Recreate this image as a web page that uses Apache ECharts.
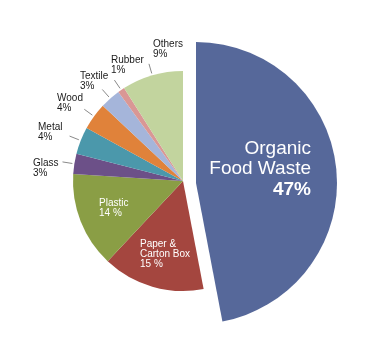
<!DOCTYPE html>
<html><head><meta charset="utf-8">
<script src="https://cdn.jsdelivr.net/npm/echarts@6/dist/echarts.min.js"></script>
<style>html,body{margin:0;padding:0;background:#fff}#c{width:378px;height:357px}</style>
</head><body><div id="c"></div>
<script>
const categories = ['Organic Food Waste','Paper & Carton Box','Plastic','Glass','Metal','Wood','Textile','Rubber','Others'];
const values = [47, 15, 14, 3, 4, 4, 3, 1, 9];
const labelTexts = ['47%','Paper &\nCarton Box\n15 %','Plastic\n14 %','Glass\n3%','Metal\n4%','Wood\n4%','Textile\n3%','Rubber\n1%','Others\n9%'];
const colors = ['#56689a','#a4463f','#8a9e45','#6c5088','#4b98ab','#e0823a','#a5b5da','#d99795','#c2d49e'];

// label placements (top-left for small slices)
const labelPos = {
  1: {x: 140, y: 239, align: 'left'},
  2: {x: 99, y: 198, align: 'left'},
  3: {x: 33, y: 158, align: 'left'},
  4: {x: 38, y: 122, align: 'left'},
  5: {x: 57, y: 93, align: 'left'},
  6: {x: 80, y: 71, align: 'left'},
  7: {x: 111, y: 55, align: 'left'},
  8: {x: 153, y: 39, align: 'left'}
};

const smallData = categories.map((name, i) => {
  if (i === 0) return {name, value: values[i], itemStyle: {color: 'rgba(0,0,0,0)'}, label: {show: false}, labelLine: {show: false}, emphasis: {disabled: true}};
  const inside = i <= 2;
  return {
    name, value: values[i],
    itemStyle: {color: colors[i]},
    label: {
      show: true, formatter: labelTexts[i],
      position: inside ? 'inside' : 'outside',
      color: inside ? '#ffffff' : '#1a1a1a',
      fontFamily: 'Liberation Sans, Arial, sans-serif',
      fontSize: 10, lineHeight: 10, align: 'left'
    },
    labelLine: {show: !inside, length: 10, length2: 0, lineStyle: {color: '#8a8a8a', width: 1}}
  };
});

const rest = values.slice(1).reduce((a, b) => a + b, 0);
const bigData = [
  {name: categories[0], value: values[0], itemStyle: {color: colors[0]},
   label: {show: true, position: 'inside', align: 'right',
     formatter: '{a|Organic}\n{a|Food Waste}\n{b|' + labelTexts[0] + '}',
     rich: {
       a: {color: '#fff', fontSize: 19, lineHeight: 20, fontFamily: 'Liberation Sans, Arial, sans-serif', align: 'right'},
       b: {color: '#fff', fontSize: 19, lineHeight: 22, fontWeight: 'bold', fontFamily: 'Liberation Sans, Arial, sans-serif', align: 'right'}
     }}},
  {name: 'rest', value: rest, itemStyle: {color: 'rgba(0,0,0,0)'}, label: {show: false}, labelLine: {show: false}, emphasis: {disabled: true}}
];

const chart = echarts.init(document.getElementById('c'), null, {renderer: 'canvas'});
chart.setOption({
  animation: false,
  backgroundColor: '#ffffff',
  series: [
    {
      type: 'pie', center: [183, 181], radius: [0, 110], startAngle: 90, clockwise: true,
      avoidLabelOverlap: false, silent: true,
      data: smallData,
      labelLayout: function (p) {
        const lp = labelPos[p.dataIndex];
        if (!lp) return {};
        const out = {x: lp.x, y: lp.y, align: lp.align, verticalAlign: 'top'};
        const pts = p.labelLinePoints;
        if (pts && pts.length >= 2) {
          const dx = pts[1][0] - pts[0][0], dy = pts[1][1] - pts[0][1];
          const len = Math.sqrt(dx * dx + dy * dy) || 1;
          const ux = dx / len, uy = dy / len;
          out.labelLinePoints = [
            [pts[0][0] + ux * 2, pts[0][1] + uy * 2],
            [pts[0][0] + ux * 12, pts[0][1] + uy * 12]
          ];
        }
        return out;
      }
    },
    {
      type: 'pie', center: [196, 183], radius: [0, 141], startAngle: 90, clockwise: true,
      avoidLabelOverlap: false, silent: true,
      data: bigData,
      labelLayout: function (p) {
        if (p.dataIndex !== 0) return {};
        return {x: 311, y: 139, align: 'right', verticalAlign: 'top'};
      }
    }
  ]
});
</script></body></html>
